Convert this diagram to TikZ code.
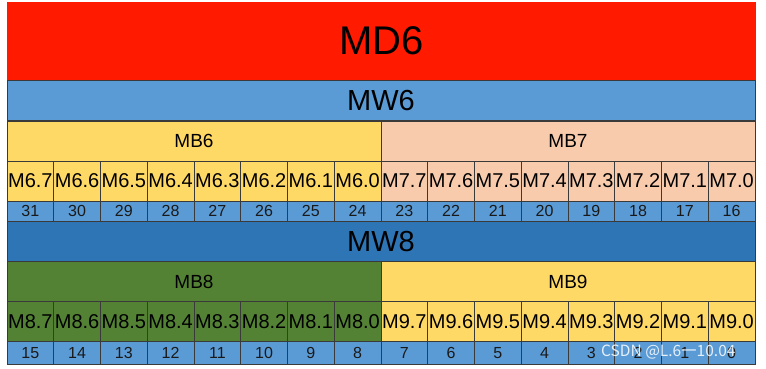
\documentclass[tikz,border=0pt]{standalone}
\usepackage{fontspec}
\setmainfont{Liberation Sans}
\newfontfamily\cjk{Noto Sans CJK SC}
\definecolor{mdred}{HTML}{FF1A00}
\definecolor{mwblue}{HTML}{5B9BD5}
\definecolor{mwdark}{HTML}{2E75B6}
\definecolor{myyellow}{HTML}{FFD966}
\definecolor{mypeach}{HTML}{F8CBAD}
\definecolor{mygreen}{HTML}{548235}
\definecolor{linegray}{HTML}{3A3A3A}
\begin{document}
\begin{tikzpicture}[x=1pt,y=-1pt,
  cell/.style={rectangle, draw=linegray, line width=0.6pt, inner sep=0pt, outer sep=0pt, text=black},
  bitcell/.style={cell, minimum width=46.75pt, minimum height=40pt, font=\fontsize{20}{20}\selectfont},
  numcell/.style={cell, fill=mwblue, minimum width=46.75pt, font=\fontsize{16}{16}\selectfont, text=black!90},
  bytecell/.style={cell, minimum width=374pt, minimum height=40pt, font=\fontsize{19}{19}\selectfont},
  wordcell/.style={cell, minimum width=748pt, minimum height=40pt, font=\fontsize{29}{29}\selectfont}]
\useasboundingbox (0,0) rectangle (766,369);
\fill[white] (0,0) rectangle (766,369);
% double word
\node[cell, draw=none, fill=mdred, minimum width=749pt, minimum height=78pt, font=\fontsize{40}{40}\selectfont] (md6) at (381.5,41) {MD6};
% words
\node[wordcell, fill=mwblue] (mw6) at (381,100.5) {MW6};
\node[wordcell, fill=mwdark] (mw8) at (381,241.5) {MW8};
% bytes
\node[bytecell, fill=myyellow] (mb6) at (194,141) {MB6};
\node[bytecell, fill=mypeach] (mb7) at (568,141) {MB7};
\node[bytecell, fill=mygreen] (mb8) at (194,281.5) {MB8};
\node[bytecell, fill=myyellow] (mb9) at (568,281.5) {MB9};
% bits
\foreach \i in {0,...,15}{
  \pgfmathsetmacro\cx{7+(\i+0.5)*46.75}
  \pgfmathtruncatemacro\bit{7-mod(\i,8)}
  \pgfmathtruncatemacro\hi{31-\i}
  \pgfmathtruncatemacro\lo{15-\i}
  \ifnum\i<8
    \node[bitcell, fill=myyellow] (t\i) at (\cx,181) {M6.\bit};
    \node[bitcell, fill=mygreen] (b\i) at (\cx,321.5) {M8.\bit};
  \else
    \node[bitcell, fill=mypeach] (t\i) at (\cx,181) {M7.\bit};
    \node[bitcell, fill=myyellow] (b\i) at (\cx,321.5) {M9.\bit};
  \fi
  \node[numcell, minimum height=20.5pt] (tn\i) at (\cx,211.25) {\hi};
  \node[numcell, minimum height=22.5pt] (bn\i) at (\cx,352.75) {\lo};
}
% watermark
\node[anchor=west, text=white, opacity=0.85, inner sep=0pt, font=\cjk\fontsize{15.5}{15.5}\selectfont] (wm) at (601,352) {CSDN @L.6一10.04};
\end{tikzpicture}
\end{document}
